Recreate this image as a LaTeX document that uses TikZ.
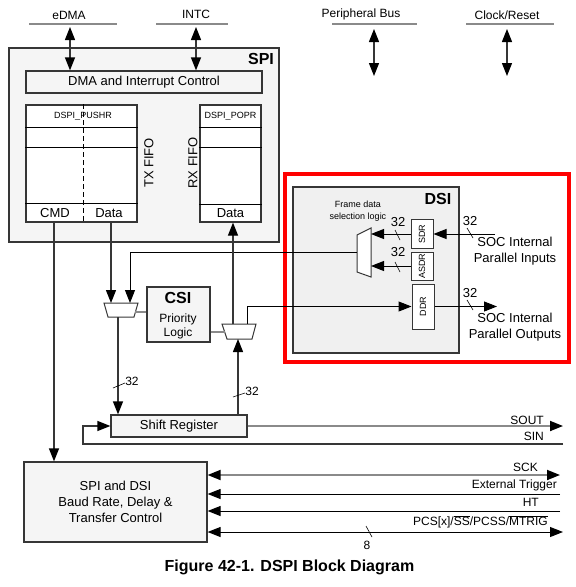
\documentclass[tikz,border=0pt]{standalone}
\usepackage{fontspec}
\setmainfont{Liberation Sans}
\usetikzlibrary{arrows.meta}
\definecolor{edge}{HTML}{363636}
\definecolor{panel}{HTML}{F5F5F5}
\definecolor{panelb}{HTML}{F0F0F0}
\definecolor{gline}{HTML}{8A8A8A}
\tikzset{
  box/.style={draw=edge, line width=1.4pt, fill=panel, inner sep=0pt},
  wbox/.style={draw=edge, line width=1pt, fill=white, inner sep=0pt},
  wire/.style={line width=1pt, draw=black},
  dwire/.style={line width=1.2pt, draw=edge},
  gwire/.style={line width=1.8pt, draw=gline},
  arr/.style={-{Triangle[length=13pt,width=10pt,color=black]}},
  darr/.style={{Triangle[length=13pt,width=10pt,color=black]}-{Triangle[length=13pt,width=10pt,color=black]}},
  lbl/.style={inner sep=0pt, font=\fontsize{13}{16}\selectfont},
  slbl/.style={inner sep=0pt, font=\fontsize{12}{14}\selectfont},
  tinylbl/.style={inner sep=0pt, font=\fontsize{9}{12}\selectfont},
  ttl/.style={inner sep=0pt, font=\fontsize{16}{18}\selectfont\bfseries},
  slash/.style={line width=0.6pt, draw=black},
}
\begin{document}
\begin{tikzpicture}[x=1pt,y=-1pt]
\useasboundingbox (0,0) rectangle (576,587);

% ---------- top interface labels ----------
\node[slbl] (edma) at (69,15) {eDMA};
\node[slbl] (intc) at (196,14) {INTC};
\node[slbl] (pbus) at (361,14) {Peripheral Bus};
\node[slbl] (clk) at (507,15) {Clock/Reset};
\draw[gwire, line width=1.3pt] (29,24) coordinate (edmaL) -- (117,24) coordinate (edmaR);
\draw[gwire, line width=1.3pt] (156,24) coordinate (intcL) -- (228,24) coordinate (intcR);
\draw[gwire, line width=1.3pt] (332,24) coordinate (pbusL) -- (417,24) coordinate (pbusR);
\draw[gwire, line width=1.3pt] (466,24) coordinate (clkL) -- (554,24) coordinate (clkR);
\coordinate (edmaA) at (70,27);
\coordinate (intcA) at (196,27);
\coordinate (pbusA) at (374,29);
\coordinate (pbusB) at (374,76);
\coordinate (clkA) at (507,29);
\coordinate (clkB) at (507,76);

% ---------- SPI ----------
\node[box, minimum width=270pt, minimum height=194pt] (spi) at (144,145) {};
\node[ttl] (spilbl) at (261,59) {SPI};
\node[box, line width=1.2pt, minimum width=236pt, minimum height=22pt, lbl] (dma) at (144,82) {DMA and Interrupt Control};
\draw[dwire, darr] (edmaA) -- (edmaA |- dma.north);
\draw[dwire, darr] (intcA) -- (intcA |- dma.north);
\draw[dwire, darr] (pbusA) -- (pbusB);
\draw[dwire, darr] (clkA) -- (clkB);

% TX FIFO
\node[wbox, line width=1.2pt, minimum width=111pt, minimum height=117pt] (tx) at (81.5,163.5) {};
\foreach \yy in {127,147,203} \draw[wire] (tx.west |- 0,\yy) -- (tx.east |- 0,\yy);
\draw[wire, dashed, dash pattern=on 5pt off 3pt] (tx.north -| 83,0) -- (tx.south -| 83,0);
\node[tinylbl] (pushr) at (83,116) {DSPI\_PUSHR};
\node[lbl] (cmdl) at (55,213) {CMD};
\node[lbl] (txdl) at (109,213) {Data};
\node[lbl, rotate=90] (txfl) at (149,163) {TX FIFO};

% RX FIFO
\node[wbox, line width=1.2pt, minimum width=61pt, minimum height=117pt] (rx) at (230.5,163.5) {};
\foreach \yy in {127,147,204} \draw[wire] (rx.west |- 0,\yy) -- (rx.east |- 0,\yy);
\node[tinylbl] (popr) at (230.5,116) {DSPI\_POPR};
\node[lbl] (rxdl) at (230.5,213) {Data};
\node[lbl, rotate=90] (rxfl) at (193,163) {RX FIFO};

% ---------- DSI ----------
\node[draw=red, line width=3.2pt, fill=white, minimum width=284pt, minimum height=188pt] (redbox) at (427,268) {};
\node[box, fill=panelb, minimum width=166pt, minimum height=166pt] (dsi) at (376,270) {};
\node[ttl] (dsilbl) at (438,199) {DSI};
\node[tinylbl, align=center] (fdsl) at (358,211) {Frame data\\selection logic};
\node[wbox, minimum width=22pt, minimum height=29pt] (sdr) at (422,234) {};
\node[tinylbl, rotate=90] at (sdr) {SDR};
\node[wbox, minimum width=22pt, minimum height=28pt] (asdr) at (422,266) {};
\node[tinylbl, rotate=90] at (asdr) {ASDR};
\node[wbox, minimum width=22pt, minimum height=45pt] (ddr) at (423,306.5) {};
\node[tinylbl, rotate=90] at (ddr) {DDR};
\draw[wbox] (357,235) -- (371,228) -- (371,277) -- (357,272) -- cycle;
\coordinate (fmR) at (371,250);
\coordinate (fmout) at (357,252);
\draw[wire, arr] (sdr.west) -- (sdr.west -| fmR);
\draw[wire, arr] (asdr.west) -- (asdr.west -| fmR);
\node[lbl] (n32a) at (398,222) {32};
\draw[slash] (395,230) -- (400,240);
\node[lbl] (n32b) at (398,252) {32};
\draw[slash] (395,262) -- (400,272);
\coordinate (socin) at (495,234);
\draw[wire, arr] (socin) -- (socin -| sdr.east);
\node[lbl] (n32c) at (470,221) {32};
\draw[slash] (467,228) -- (473,238);
\node[lbl, align=center] (socinl) at (515,251.5) {SOC Internal\\Parallel Inputs};
\coordinate (socout) at (497,306.5);
\draw[wire, arr] (ddr.east) -- (socout);
\node[lbl] (n32d) at (470,293) {32};
\draw[slash] (467,300) -- (473,310);
\node[lbl, align=center] (socoutl) at (515,327.5) {SOC Internal\\Parallel Outputs};

% ---------- CSI and muxes ----------
\node[box, minimum width=63pt, minimum height=55pt] (csi) at (178.5,314.5) {};
\node[ttl] (csil) at (178,298) {CSI};
\node[slbl, align=center] (prl) at (178,326) {Priority\\Logic};
% left mux
\draw[wbox] (104,303) -- (138,303) -- (134,317) -- (108,317) -- cycle;
\coordinate (lmA) at (111,303);
\coordinate (lmB) at (130,303);
\coordinate (lmR) at (135.4,312);
\coordinate (lmO) at (118,317);
% right mux
\draw[wbox] (222,324) -- (256,324) -- (252,339) -- (227,339) -- cycle;
\coordinate (rmA) at (233,324);
\coordinate (rmB) at (247,324);
\coordinate (rmL) at (224.7,332);
\coordinate (rmI) at (238,339);

% ---------- Shift register ----------
\node[box, line width=1.2pt, minimum width=136pt, minimum height=22pt, lbl] (sr) at (179,426) {Shift Register};

% ---------- Baud rate ----------
\node[box, line width=1.2pt, minimum width=183pt, minimum height=80pt, lbl, align=center, font=\fontsize{13}{16}\selectfont] (baud) at (115.5,502) {SPI and DSI\\Baud Rate, Delay \&\\Transfer Control};

% ---------- connections ----------
\coordinate (cmdO) at (54,222);
\draw[dwire, arr] (cmdO) -- (cmdO |- baud.north);
\draw[dwire, arr] (lmA |- tx.south) -- (lmA);
\draw[wire, arr] (fmout) -- (fmout -| lmB) -- (lmB);
\draw[gwire, line width=1.3pt] (lmR) -- (lmR -| csi.west);
\draw[gwire, line width=1.3pt] (rmL -| csi.east) -- (rmL);
\draw[dwire, arr] (rmA) -- (rmA |- rx.south);
\draw[wire, arr] (rmB) -- (rmB |- ddr.west) -- (ddr.west);
\draw[dwire, arr] (lmO) -- (lmO |- sr.north);
\node[slbl] (n32e) at (132,381) {32};
\draw[slash] (113,388) -- (125,383);
\draw[dwire, arr] (rmI |- sr.north) -- (rmI);
\node[slbl] (n32f) at (252,391) {32};
\draw[slash] (233,397) -- (245,393);

% SOUT / SIN
\coordinate (soutE) at (563,426);
\draw[gwire, arr] (sr.east) -- (soutE);
\node[slbl, anchor=east] (soutl) at (544,420) {SOUT};
\coordinate (sinE) at (563,444);
\draw[dwire, arr] (sinE) -- (83,444) -- (83,426) -- (sr.west);
\node[slbl, anchor=east] (sinl) at (544,436) {SIN};

% baud interface
\coordinate (sckE) at (560,475);
\draw[gwire, darr] (baud.east |- sckE) -- (sckE);
\node[slbl, anchor=east] (sckl) at (538,467) {SCK};
\coordinate (etE) at (560,494);
\draw[wire, arr] (etE) -- (etE -| baud.east);
\node[slbl, anchor=east] (etl) at (557,485) {External Trigger};
\coordinate (htE) at (560,511);
\draw[wire, arr] (htE) -- (htE -| baud.east);
\node[slbl, anchor=east] (htl) at (539,502) {HT};
\coordinate (pcsE) at (563,532);
\draw[wire, darr] (baud.east |- pcsE) -- (pcsE);
\node[slbl, anchor=east] (pcsl) at (548,522) {PCS[x]/$\overline{\mbox{SS}}$/PCSS/$\overline{\mbox{MTRIG}}$};
\draw[slash] (366,526) -- (372,537);
\node[slbl] (n8) at (367,545) {8};

% caption
\node[ttl] (cap) at (289.5,567) {Figure 42-1. DSPI Block Diagram};
\end{tikzpicture}
\end{document}
